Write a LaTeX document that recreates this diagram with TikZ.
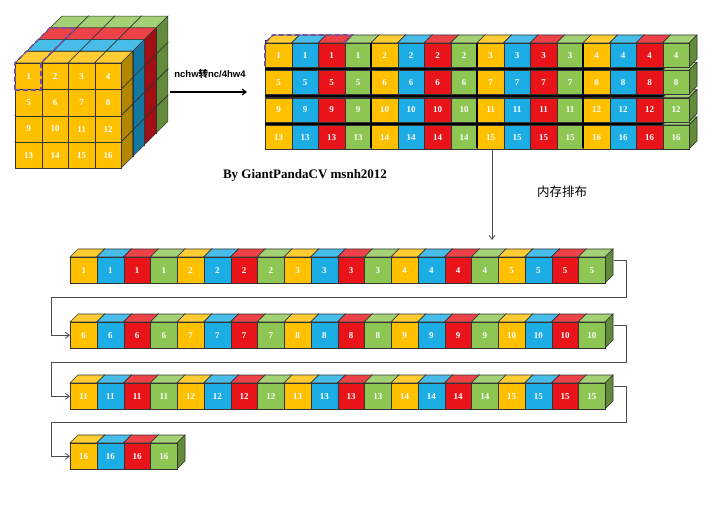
\documentclass[tikz,border=0pt]{standalone}
\usepackage{fontspec}
\newfontfamily\cjk{Noto Sans CJK SC}
\newfontfamily\arialf{Liberation Sans}
\setmainfont{Liberation Serif}
\usetikzlibrary{calc,arrows.meta}
\definecolor{col0}{HTML}{FFC000}
\definecolor{col1}{HTML}{1CADE4}
\definecolor{col2}{HTML}{E8141A}
\definecolor{col3}{HTML}{8DC653}
\definecolor{dash}{HTML}{7B4FA0}
\tikzset{
 cubef/.style={draw=black!80,line width=0.6pt,anchor=north west,inner sep=0pt,text=white,font=\bfseries\fontsize{9}{9}\selectfont},
 face/.style={draw=black!80,line width=0.6pt},
 conn/.style={draw=black!70,line width=0.8pt,-{Straight Barb[length=4pt,width=6pt]}},
 dashline/.style={draw=dash,line width=1.6pt,dash pattern=on 5pt off 3pt}
}
% #1 name, #2 x, #3 y, #4 colour, #5 text, #6 w, #7 h, #8 depth
\newcommand{\mycube}[8]{%
 \fill[#4!80!white,face] (#2,#3) -- ++(#8,-#8) -- ++(#6,0) -- ++(-#8,#8) -- cycle;
 \fill[#4!70!black,face] (#2+#6,#3) -- ++(#8,-#8) -- ++(0,#7) -- ++(-#8,#8) -- cycle;
 \node[cubef,fill=#4,minimum width=#6pt,minimum height=#7pt] (#1) at (#2,#3) {#5};}
\begin{document}
\begin{tikzpicture}[x=1pt,y=-1pt]
\useasboundingbox (0,0) rectangle (720,529);
\fill[white] (0,0) rectangle (720,529);
% left cube
\foreach \k/\cc in {3/col3,2/col2,1/col1,0/col0}{
 \foreach \r in {3,2,1,0}{
  \foreach \c in {0,...,3}{
   \pgfmathtruncatemacro\n{\r*4+\c+1}
   \ifnum\k=0 \def\tt{\n}\else\def\tt{}\fi
   \mycube{L\k r\r c\c}{15+11.7*\k+26.5*\c}{63-11.7*\k+26.3*\r}{\cc}{\tt}{26.5}{26.3}{11.7}
  }}}
\draw[dashline] (15,90) -- (15,63) -- (50,28) -- (76,28) -- (41,63) -- (41,90) -- cycle;
% arrow and label
\coordinate (a1) at (170,92); \coordinate (a2) at (247,92);
\draw[conn,line width=1.2pt,draw=black] (a1) -- (a2);
\node[font=\arialf\bfseries\fontsize{9.5}{10}\selectfont] (lab) at (210,74) {nchw\cjk 转\arialf nc/4hw4};
% top right block
\fill[black] (265,40) rectangle (689,150);
\foreach \r in {3,2,1,0}{
 \foreach \c in {0,...,15}{
  \pgfmathtruncatemacro\col{mod(\c,4)}
  \pgfmathtruncatemacro\n{\r*4+int(\c/4)+1}
  \ifnum\r=0 \def\dd{8}\else\def\dd{0}\fi
  \ifnum\c=15 \def\dd{8}\fi
  \mycube{T\r c\c}{265+26.5*\c}{43+27.3*\r}{col\col}{\n}{26.5}{24}{\dd}
 }}
\foreach \g in {1,2,3}{\draw[black,line width=2.5pt] (265+106*\g,43) -- (265+106*\g,148);}
\draw[dashline] (265,66) -- (265,43) -- (273,35) -- (352,35) -- (344,43);
\node[font=\bfseries\fontsize{13}{14}\selectfont] (by) at (305,175) {By GiantPandaCV msnh2012};
\coordinate (v1) at (492,150); \coordinate (v2) at (492,240);
\draw[conn] (v1) -- (v2);
\node[font=\cjk\fontsize{12.5}{13}\selectfont] (mem) at (562,192) {内存排布};
% memory list
\foreach \r/\yy in {0/257,1/322,2/383}{
 \foreach \i in {0,...,19}{
  \pgfmathtruncatemacro\col{mod(\i,4)}
  \pgfmathtruncatemacro\n{\r*5+int(\i/4)+1}
  \mycube{M\r c\i}{70+26.75*\i}{\yy}{col\col}{\n}{26.75}{26}{8}
 }}
\foreach \i in {0,...,3}{
 \pgfmathtruncatemacro\col{mod(\i,4)}
 \mycube{M3c\i}{70+26.75*\i}{443}{col\col}{16}{26.75}{26}{8}}
\draw[conn] ($(M0c19.east)+(8,-10)$) -- ++(13,0) |- (51,297) |- (M1c0.west);
\draw[conn] ($(M1c19.east)+(8,-10)$) -- ++(13,0) |- (51,362) |- (M2c0.west);
\draw[conn] ($(M2c19.east)+(8,-10)$) -- ++(13,0) |- (51,422) |- (M3c0.west);
\end{tikzpicture}
\end{document}
